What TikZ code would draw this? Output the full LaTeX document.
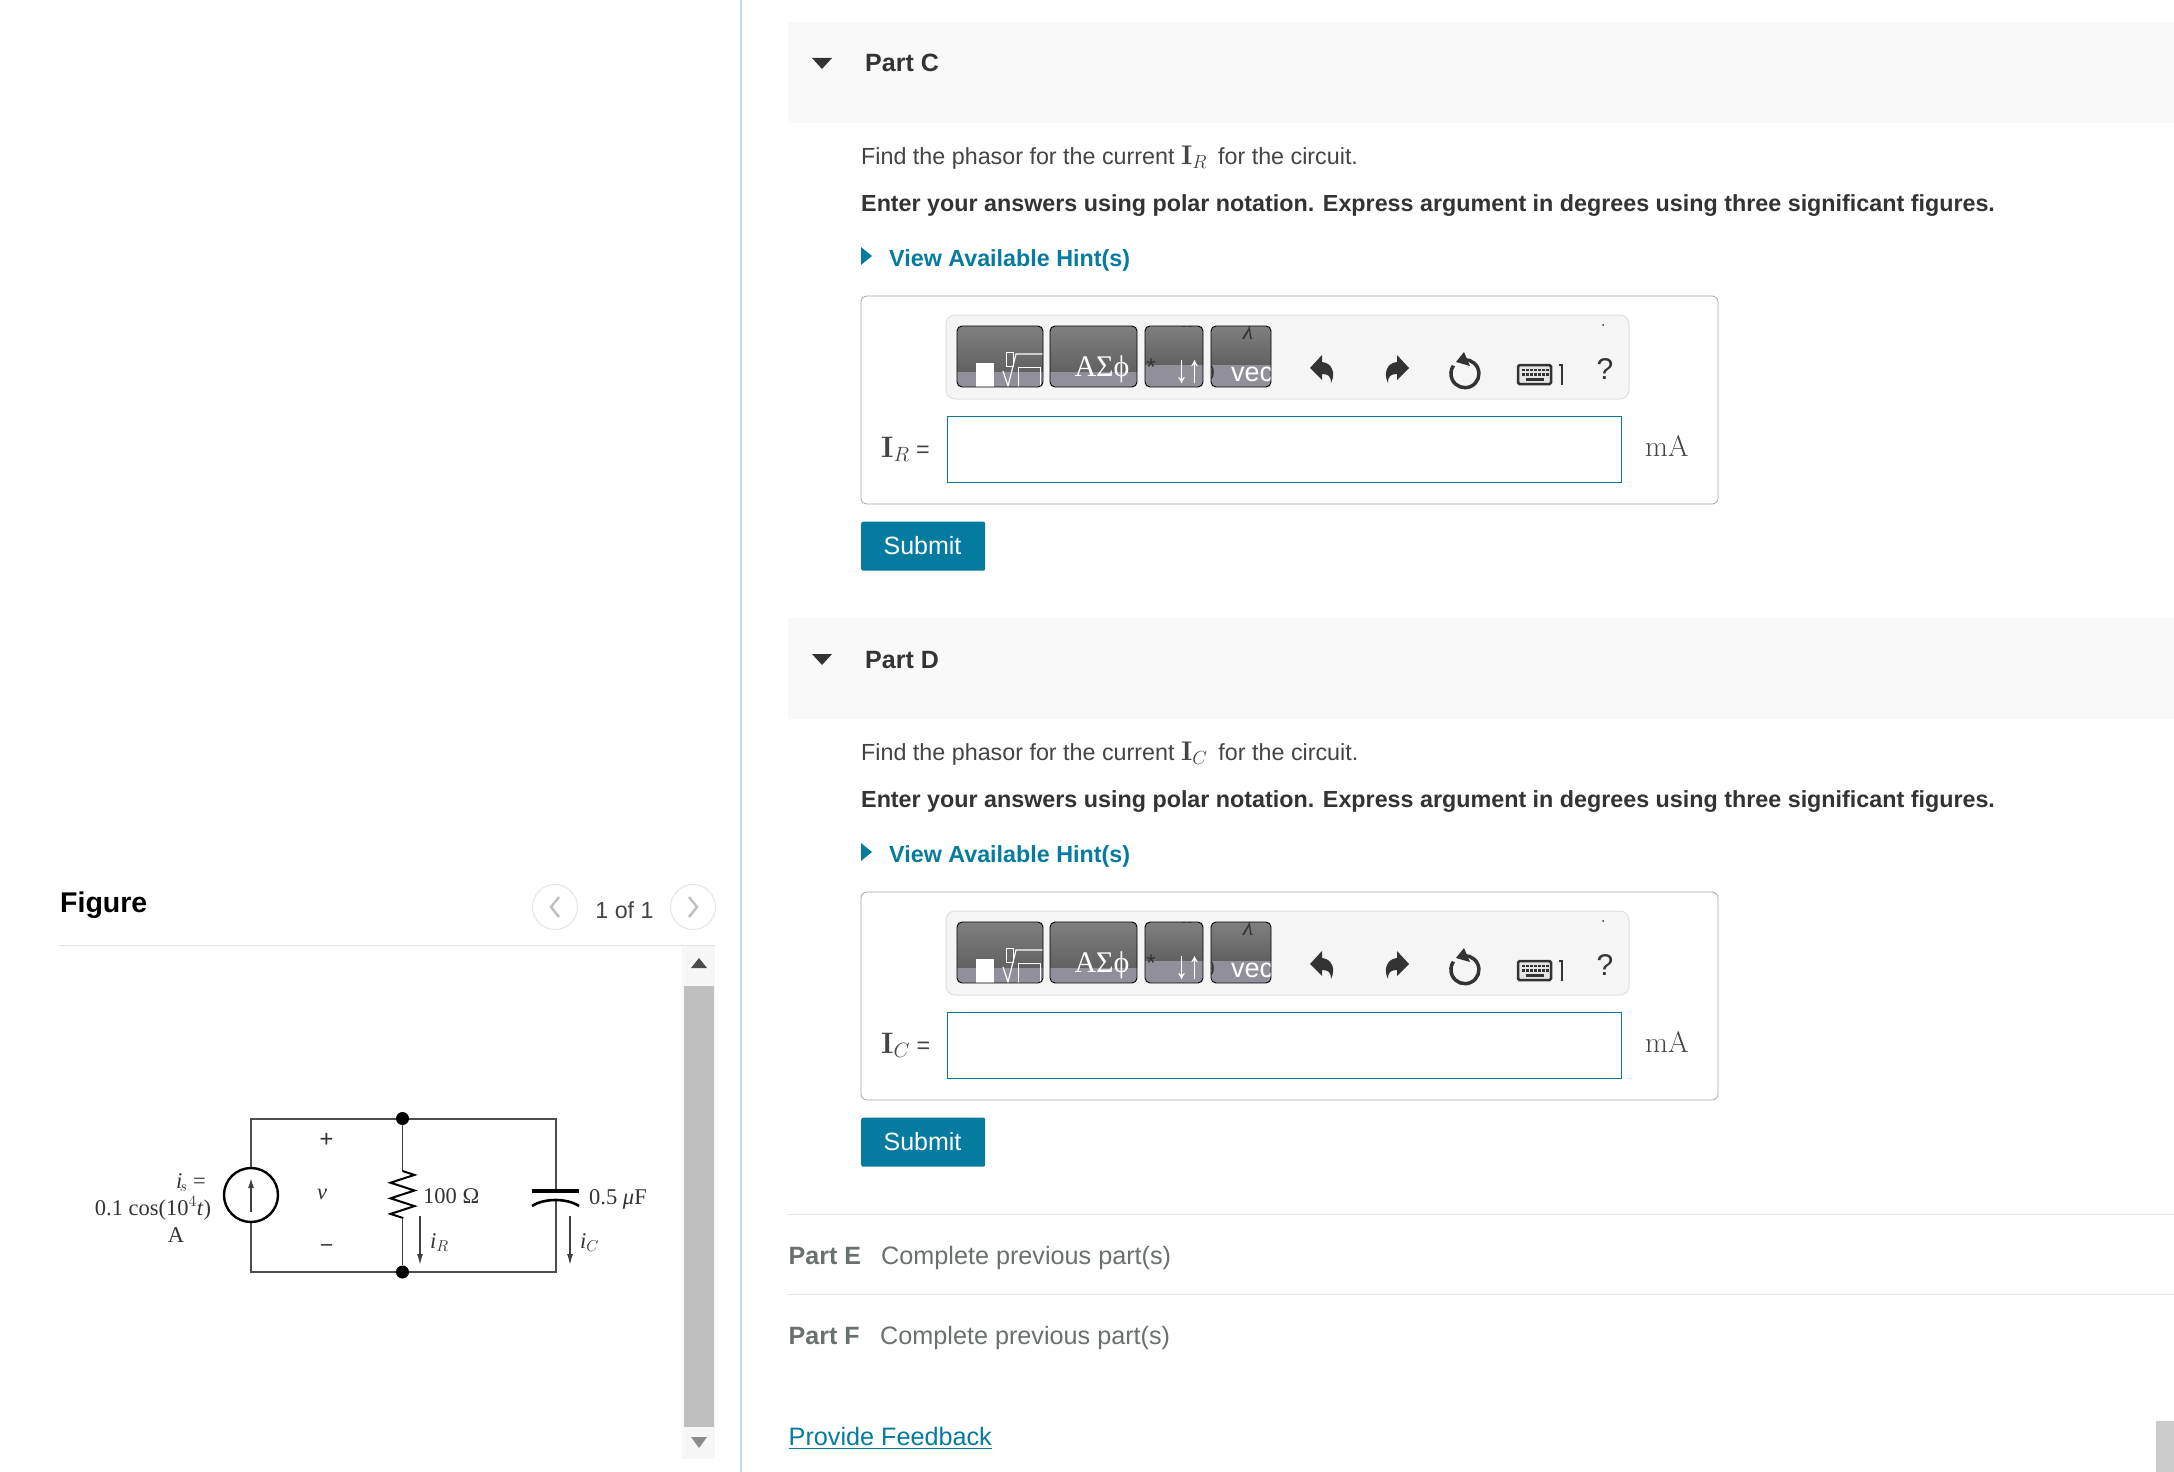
\documentclass[tikz,border=0pt]{standalone}
\usepackage[no-math]{fontspec}
\usepackage{fix-cm}
\usepackage{amsmath,amssymb}
\setmainfont{Liberation Sans}
\newfontfamily\figfont{Liberation Serif}
\newfontfamily\symfont{DejaVu Sans}
\usetikzlibrary{shapes,arrows,arrows.meta,positioning,decorations.pathmorphing}
\definecolor{teal}{HTML}{047B9F}
\definecolor{ink}{HTML}{333333}
\definecolor{bodyink}{HTML}{444444}
\definecolor{mutegray}{HTML}{6A7070}
\definecolor{band}{HTML}{F9F9F9}
\definecolor{rulegray}{HTML}{E2E2E2}
\definecolor{btnlight}{HTML}{918F99}
\definecolor{divider}{HTML}{C5D9E8}
\tikzstyle{txt} = [anchor=base west, inner sep=0pt, font=\fontsize{23.3}{26}\selectfont, text=bodyink]
\tikzstyle{boldtxt} = [txt, font=\fontsize{23.3}{26}\selectfont\bfseries, text=ink]
\tikzstyle{head} = [txt, font=\fontsize{25}{28}\selectfont\bfseries, text=ink]
\tikzstyle{mutetxt} = [txt, font=\fontsize{25.2}{28}\selectfont, text=mutegray]
\tikzstyle{mutebold} = [txt, font=\fontsize{25}{28}\selectfont\bfseries, text=mutegray]
\tikzstyle{fig} = [inner sep=0pt, text=black!80, font=\fontsize{22.5}{24}\selectfont\figfont]
\tikzstyle{wire} = [draw=black!70, line width=2pt, line join=miter]
\tikzstyle{thinwire} = [draw=black!75, line width=1.4pt]
\tikzstyle{dot} = [circle, fill=black, inner sep=0pt, minimum size=13pt]
\tikzstyle{navcircle} = [circle, draw=black!10, line width=1pt, inner sep=0pt, minimum size=45pt]
\tikzstyle{panelbox} = [draw=black!35, line width=0.8pt, rounded corners=6pt]
\tikzset{
	undoicon/.pic={
		\fill[ink] (-12,0) -- (0,-13) -- (0,-6) .. controls (10,-5) and (14,5) .. (9,15) .. controls (9,8) and (6,6) .. (0,6) -- (0,12) -- cycle;
	}
}
\newcommand{\toolbtn}[5]{%
	\begin{scope}
		\clip[rounded corners=5pt] (#1,#3) rectangle (#2,387);
		\shade[top color=black!50, bottom color=black!62] (#1,#3) rectangle (#2,#4);
		\fill[btnlight] (#1,#4) rectangle (#2,387);
		#5
	\end{scope}
	\draw[black, line width=0.9pt, rounded corners=5pt] (#1,#3) rectangle (#2,387);
}

\begin{document}
\begin{tikzpicture}[x=1pt, y=-1pt, >=latex']
	\useasboundingbox (0,0) rectangle (2174,1472);
	\fill[white] (0,0) rectangle (2174,1472);
	\draw[divider, line width=1.5pt] (741,0) -- (741,1472);

	% left panel
	\node [anchor=base west, inner sep=0pt, font=\fontsize{28.5}{32}\selectfont\bfseries] (figtitle) at (60,912) {Figure};
	\node [navcircle] (navprev) at (555,907) {};
	\node [navcircle] (navnext) at (693,907) {};
	\draw[black!25, line width=2.4pt] (559,897) -- (551,907) -- (559,917);
	\draw[black!25, line width=2.4pt] (689,897) -- (697,907) -- (689,917);
	\node [txt, anchor=base] (navcount) at (624.5,918.5) {1 of 1};
	\draw[rulegray, line width=1pt] (59,945) -- (715,945);
	\fill[black!3] (682,946) rectangle (715,1459);
	\fill[black!25] (684,986) rectangle (714,1427);
	\fill[black!70] (691,968) -- (707,968) -- (699,958) -- cycle;
	\fill[black!45] (691,1437) -- (707,1437) -- (699,1448) -- cycle;

	% circuit
	\node [dot] (topdot) at (402.5,1118.5) {};
	\node [dot] (botdot) at (402.5,1272) {};
	\node [circle, draw=black, line width=2.4pt, inner sep=0pt, minimum size=54pt] (source) at (251,1195) {};
	\coordinate (lefttop) at (source|-topdot);
	\coordinate (leftbot) at (source|-botdot);
	\coordinate (righttop) at (556,1118.5);
	\coordinate (rightbot) at (556,1272);
	\coordinate (restop) at (402.5,1171);
	\coordinate (resbot) at (402.5,1218);
	\coordinate (capflat) at (556,1191);
	\coordinate (capcurve) at (556,1199);
	\coordinate (srclow) at (251,1212);
	\coordinate (srchigh) at (251,1178);
	\draw[wire] (source.north) -- (lefttop) -- (topdot);
	\draw[wire] (topdot) -- (righttop) -- (capflat);
	\draw[wire] (capcurve) -- (rightbot) -- (botdot);
	\draw[wire] (botdot) -- (leftbot) -- (source.south);
	\draw[thinwire] (topdot) -- (restop);
	\draw[thinwire] (resbot) -- (botdot);
	\draw[line width=2pt, decorate, decoration={zigzag, segment length=15.6pt, amplitude=12pt}] (restop) -- (resbot);
	\draw[-{Latex[length=10pt,width=6pt]}, thinwire] (srclow) -- (srchigh);
	\draw[line width=3.5pt] (532,1191) -- (579,1191);
	\draw[line width=2.6pt] (532,1206) .. controls (544,1198) and (567,1198) .. (579,1206);
	\coordinate (iRtail) at (420,1216);
	\coordinate (iRhead) at (420,1265);
	\coordinate (iCtail) at (570,1216);
	\coordinate (iChead) at (570,1265);
	\draw[-{Latex[length=11pt,width=6pt]}, thinwire] (iRtail) -- (iRhead);
	\draw[-{Latex[length=11pt,width=6pt]}, thinwire] (iCtail) -- (iChead);
	\node [fig, anchor=base] (isrc) at (191,1188) {\textit{i}$_{\!s}$ =};
	\node [fig, anchor=base] (srcval) at (153,1215) {0.1 cos(10$^4$\textit{t})};
	\node [fig, anchor=base] (srcunit) at (176,1242) {A};
	\node [fig, font=\fontsize{25}{26}\selectfont\figfont\bfseries] (plus) at (326.5,1140) {+};
	\node [fig] (vlabel) at (322,1194) {\textit{v}};
	\node [fig, font=\fontsize{22}{26}\selectfont\figfont\bfseries] (minus) at (326.5,1248) {–};
	\node [fig, anchor=base west] (resval) at (423,1203) {100 Ω};
	\node [fig, anchor=base west] (capval) at (589,1204) {0.5 \textit{μ}F};
	\node [fig, anchor=base west] (iRlabel) at (430,1248) {\textit{i}$_{\scriptstyle R}$};
	\node [fig, anchor=base west] (iClabel) at (580,1248) {\textit{i}$_{\scriptstyle C}$};

	% parts C and D, same layout
	\foreach \partname/\subname/\off in {C/R/0, D/C/596} {
		\begin{scope}[yshift=-\off pt]
			\fill[band] (788,22) rectangle (2174,123);
			\fill[ink] (812,58) -- (832,58) -- (822,69) -- cycle;
			\node [head] (part\partname) at (865,72) {Part \partname};
			\node [txt] (find\partname) at (861,164) {Find the phasor for the current {\fontsize{27}{30}\selectfont$\mathbf{I}_{\subname}$\,} for the circuit.};
			\node [boldtxt] (enter\partname) at (861,211) {Enter your answers using polar notation. Express argument in degrees using three significant figures.};
			\fill[teal] (861,247) -- (872,256) -- (861,265) -- cycle;
			\node [boldtxt, text=teal] (hint\partname) at (889,266) {View Available Hint(s)};
			\draw[panelbox] (861,296) rectangle (1718,504);
			\filldraw[fill=black!4, draw=black!12, line width=1pt, rounded corners=9pt] (946,315) rectangle (1629,399);
			\toolbtn{957}{1043}{326}{372}{
				\fill[white] (976,363) rectangle (994,387);
				\draw[white, line width=1pt] (1006,352) rectangle (1013,366);
				\draw[white, line width=1.2pt] (1003,371) -- (1008,386) -- (1016,354) -- (1043,354);
				\draw[white, line width=1pt] (1018,387) -- (1018,367) -- (1040,367) -- (1040,387);
			}
			\toolbtn{1050}{1137}{326}{372}{
				\node [inner sep=0pt, text=white, font=\fontsize{30}{32}\selectfont\figfont] (greek\partname) at (1102,369) {ΑΣϕ};
			}
			\toolbtn{1145}{1203}{326}{365}{
				\node [inner sep=0pt, text=ink, font=\fontsize{20}{22}\selectfont\symfont] (inf\partname) at (1187,325) {∞};
				\node [inner sep=0pt, text=ink, font=\fontsize{24}{24}\selectfont] (star\partname) at (1151,367) {*};
				\node [inner sep=0pt, text=white, yscale=1.5, font=\fontsize{26}{28}\selectfont\figfont] (flip\partname) at (1188,372) {↓↑};
			}
			\toolbtn{1211}{1271}{326}{365}{
				\node [inner sep=0pt, text=ink, font=\fontsize{24}{24}\selectfont\figfont\itshape] (lam\partname) at (1248,331) {λ};
				\node [inner sep=0pt, text=ink, font=\fontsize{20}{22}\selectfont\figfont] (theta\partname) at (1210,373) {θ};
				\node [inner sep=0pt, anchor=base west, text=white, font=\fontsize{27}{28}\selectfont] (vec\partname) at (1231,381) {vec};
			}
			\pic at (1322,368) {undoicon};
			\pic[xscale=-1] at (1397,368) {undoicon};
			\draw[ink, line width=3.5pt] (1459,361) arc[start angle=-115, end angle=215, radius=14];
			\fill[ink] (1464,352) -- (1470,366) -- (1456,362) -- cycle;
			\draw[ink, fill=black!10, line width=2.5pt, rounded corners=1.5pt] (1518,365) rectangle (1551,384);
			\foreach \kx in {1522,1526,...,1546} {
				\fill[ink] (\kx,368.5) rectangle +(2.5,2.5);
				\fill[ink] (\kx,373) rectangle +(2.5,2.5);
			}
			\fill[ink] (1526,378) rectangle (1544,380.5);
			\draw[ink, line width=1.4pt] (1559,365) -- (1562,365) -- (1562,385);
			\node [inner sep=0pt, text=ink, font=\fontsize{30}{32}\selectfont] (help\partname) at (1605,369) {?};
			\fill[ink] (1603,325) circle (1pt);
			\node [txt, anchor=base west] (label\partname) at (881,457) {{\fontsize{29.6}{30}\selectfont$\mathbf{I}_{\subname}$} =};
			\draw[teal, line width=1pt] (947,416) rectangle (1621,482);
			\node [txt, font=\fontsize{29.6}{30}\selectfont] (unit\partname) at (1645,456) {$\mathrm{mA}$};
			\node [fill=teal, rounded corners=2pt, minimum width=124pt, minimum height=49pt, inner sep=0pt, anchor=north west] (submit\partname) at (861,521.5) {};
			\node [anchor=base, inner sep=0pt, text=white, font=\fontsize{25}{28}\selectfont] (submittxt\partname) at (922.5,554) {Submit};
		\end{scope}
	}

	% closed parts
	\draw[rulegray, line width=1pt] (788,1214) -- (2174,1214);
	\draw[rulegray, line width=1pt] (788,1294) -- (2174,1294);
	\node [mutebold] (partE) at (788.5,1264) {Part E};
	\node [mutetxt] (prevE) at (881,1264) {Complete previous part(s)};
	\node [mutebold] (partF) at (788.5,1344) {Part F};
	\node [mutetxt] (prevF) at (880,1344) {Complete previous part(s)};
	\node [txt, text=teal, font=\fontsize{25.2}{28}\selectfont] (feedback) at (788.5,1445) {Provide Feedback};
	\draw[teal, line width=1.5pt] (feedback.base west)++(0,3.5) -- (feedback.base east |- 0,1448.5);
	\fill[black!20] (2156,1421) rectangle (2174,1472);
\end{tikzpicture}
\end{document}
